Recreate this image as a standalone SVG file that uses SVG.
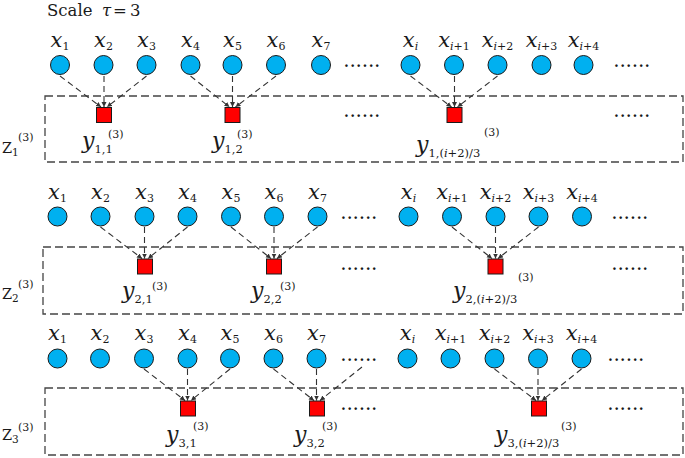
<svg xmlns="http://www.w3.org/2000/svg" width="685" height="458" viewBox="0 0 685 458">
<style>
.c{fill:#00B0F0;stroke:#1a1a1a;stroke-width:1}
.s{fill:#FF0000;stroke:#1a1a1a;stroke-width:1}
.box{fill:none;stroke:#444;stroke-width:1.3;stroke-dasharray:8 4}
.e{fill:none;stroke:#333;stroke-width:1.1;stroke-dasharray:6 4;marker-end:url(#ah)}
text{font-family:'DejaVu Serif','Liberation Serif',serif;fill:#1a1a1a}
.t{font-size:16.5px}
.v{font-style:italic;font-size:21px}
.vy{font-style:italic;font-size:22px}
.sb{font-style:normal;font-size:11px}
.sy{font-style:normal;font-size:11.5px}
.i{font-style:italic}
.sp{font-size:11px}
.z{font-size:14.5px}
.zs{font-size:10.5px}
.d{font-size:14px;font-weight:bold;letter-spacing:1.3px}
</style>
<defs>
<marker id="ah" markerUnits="userSpaceOnUse" markerWidth="6" markerHeight="6" refX="5" refY="2.5" orient="auto">
<path d="M0,0 L5,2.5 L0,5 Z" fill="#333"/>
</marker>
</defs>
<text class="t" y="16"><tspan x="47">Scale</tspan><tspan x="102" font-style="italic">τ</tspan><tspan x="113">=</tspan><tspan x="130">3</tspan></text>

<rect id="box1" class="box" x="45" y="96" width="638" height="66"/>
<rect id="box2" class="box" x="43" y="247" width="640" height="67"/>
<rect id="box3" class="box" x="45" y="388" width="638" height="67"/>

<g id="connectors">
<line class="e" x1="60" y1="76" x2="101" y2="107"/>
<line class="e" x1="104" y1="76" x2="104" y2="107"/>
<line class="e" x1="146.5" y1="76" x2="107" y2="107"/>
<line class="e" x1="190.5" y1="76" x2="229.5" y2="107"/>
<line class="e" x1="232.5" y1="76" x2="232.5" y2="107"/>
<line class="e" x1="276" y1="76" x2="235.5" y2="107"/>
<line class="e" x1="410.5" y1="76" x2="451.5" y2="107"/>
<line class="e" x1="454.5" y1="76" x2="454.5" y2="107"/>
<line class="e" x1="497.5" y1="76" x2="457.5" y2="107"/>
<line class="e" x1="100.5" y1="227" x2="142" y2="258.5"/>
<line class="e" x1="144.5" y1="227" x2="144.5" y2="258.5"/>
<line class="e" x1="187.5" y1="227" x2="148" y2="258.5"/>
<line class="e" x1="231" y1="227" x2="271" y2="258.5"/>
<line class="e" x1="274" y1="227" x2="274" y2="258.5"/>
<line class="e" x1="317.5" y1="227" x2="277" y2="258.5"/>
<line class="e" x1="452" y1="227" x2="492" y2="258.5"/>
<line class="e" x1="495.5" y1="227" x2="495.5" y2="258.5"/>
<line class="e" x1="538.5" y1="227" x2="498" y2="258.5"/>
<line class="e" x1="144" y1="369" x2="185" y2="400.5"/>
<line class="e" x1="187.5" y1="369" x2="187.5" y2="400.5"/>
<line class="e" x1="230" y1="369" x2="191" y2="400.5"/>
<line class="e" x1="273.5" y1="369" x2="314" y2="400.5"/>
<line class="e" x1="316.5" y1="369" x2="316.5" y2="400.5"/>
<line class="e" x1="362" y1="367" x2="320" y2="400.5"/>
<line class="e" x1="494.5" y1="369" x2="536" y2="400.5"/>
<line class="e" x1="538" y1="369" x2="538" y2="400.5"/>
<line class="e" x1="581.5" y1="369" x2="542" y2="400.5"/>
</g>

<g id="p1x1"><circle class="c" cx="60" cy="65" r="9.5"/><text class="v" x="60" y="47" text-anchor="middle">x<tspan class="sb" dy="3">1</tspan></text></g>
<g id="p1x2"><circle class="c" cx="103.5" cy="65" r="9.5"/><text class="v" x="103.5" y="47" text-anchor="middle">x<tspan class="sb" dy="3">2</tspan></text></g>
<g id="p1x3"><circle class="c" cx="146.5" cy="65" r="9.5"/><text class="v" x="146.5" y="47" text-anchor="middle">x<tspan class="sb" dy="3">3</tspan></text></g>
<g id="p1x4"><circle class="c" cx="190.5" cy="65" r="9.5"/><text class="v" x="190.5" y="47" text-anchor="middle">x<tspan class="sb" dy="3">4</tspan></text></g>
<g id="p1x5"><circle class="c" cx="232.5" cy="65" r="9.5"/><text class="v" x="232.5" y="47" text-anchor="middle">x<tspan class="sb" dy="3">5</tspan></text></g>
<g id="p1x6"><circle class="c" cx="276" cy="65" r="9.5"/><text class="v" x="276" y="47" text-anchor="middle">x<tspan class="sb" dy="3">6</tspan></text></g>
<g id="p1x7"><circle class="c" cx="321" cy="65" r="9.5"/><text class="v" x="321" y="47" text-anchor="middle">x<tspan class="sb" dy="3">7</tspan></text></g>
<g id="p1xi"><circle class="c" cx="410.5" cy="65" r="9.5"/><text class="v" x="410.5" y="47" text-anchor="middle">x<tspan class="sb i" dy="3">i</tspan></text></g>
<g id="p1xi1"><circle class="c" cx="454" cy="65" r="9.5"/><text class="v" x="454" y="47" text-anchor="middle">x<tspan class="sb" dy="3"><tspan class="i">i</tspan>+1</tspan></text></g>
<g id="p1xi2"><circle class="c" cx="497.5" cy="65" r="9.5"/><text class="v" x="497.5" y="47" text-anchor="middle">x<tspan class="sb" dy="3"><tspan class="i">i</tspan>+2</tspan></text></g>
<g id="p1xi3"><circle class="c" cx="541.5" cy="65" r="9.5"/><text class="v" x="541.5" y="47" text-anchor="middle">x<tspan class="sb" dy="3"><tspan class="i">i</tspan>+3</tspan></text></g>
<g id="p1xi4"><circle class="c" cx="583.5" cy="65" r="9.5"/><text class="v" x="583.5" y="47" text-anchor="middle">x<tspan class="sb" dy="3"><tspan class="i">i</tspan>+4</tspan></text></g>
<g id="p1dots"><text class="d" x="344" y="67">......</text><text class="d" x="614" y="67">......</text><text class="d" x="344" y="117">......</text><text class="d" x="614" y="117">......</text></g>
<g id="z1"><text class="z" x="2" y="153">Z<tspan class="zs" dy="3">1</tspan></text><text class="sp" x="18" y="141">(3)</text></g>
<g id="p1y1"><rect class="s" x="96.5" y="107.5" width="15" height="15"/><text class="vy" x="82" y="148">y<tspan class="sy" dy="5">1,1</tspan></text><text class="sp" x="108" y="138">(3)</text></g>
<g id="p1y2"><rect class="s" x="225" y="107.5" width="15" height="15"/><text class="vy" x="212" y="148">y<tspan class="sy" dy="5">1,2</tspan></text><text class="sp" x="237" y="138">(3)</text></g>
<g id="p1yi"><rect class="s" x="447" y="107.5" width="15" height="15"/><text class="vy" x="416" y="152">y<tspan class="sy" dy="5">1,(<tspan class="i">i</tspan>+2)/3</tspan></text><text class="sp" x="484" y="136">(3)</text></g>

<g id="p2x1"><circle class="c" cx="57.5" cy="216.5" r="9.5"/><text class="v" x="57.5" y="198.5" text-anchor="middle">x<tspan class="sb" dy="3">1</tspan></text></g>
<g id="p2x2"><circle class="c" cx="100.5" cy="216.5" r="9.5"/><text class="v" x="100.5" y="198.5" text-anchor="middle">x<tspan class="sb" dy="3">2</tspan></text></g>
<g id="p2x3"><circle class="c" cx="144.5" cy="216.5" r="9.5"/><text class="v" x="144.5" y="198.5" text-anchor="middle">x<tspan class="sb" dy="3">3</tspan></text></g>
<g id="p2x4"><circle class="c" cx="187.5" cy="216.5" r="9.5"/><text class="v" x="187.5" y="198.5" text-anchor="middle">x<tspan class="sb" dy="3">4</tspan></text></g>
<g id="p2x5"><circle class="c" cx="231" cy="216.5" r="9.5"/><text class="v" x="231" y="198.5" text-anchor="middle">x<tspan class="sb" dy="3">5</tspan></text></g>
<g id="p2x6"><circle class="c" cx="274" cy="216.5" r="9.5"/><text class="v" x="274" y="198.5" text-anchor="middle">x<tspan class="sb" dy="3">6</tspan></text></g>
<g id="p2x7"><circle class="c" cx="317.5" cy="216.5" r="9.5"/><text class="v" x="317.5" y="198.5" text-anchor="middle">x<tspan class="sb" dy="3">7</tspan></text></g>
<g id="p2xi"><circle class="c" cx="408.5" cy="216.5" r="9.5"/><text class="v" x="408.5" y="198.5" text-anchor="middle">x<tspan class="sb i" dy="3">i</tspan></text></g>
<g id="p2xi1"><circle class="c" cx="452" cy="216.5" r="9.5"/><text class="v" x="452" y="198.5" text-anchor="middle">x<tspan class="sb" dy="3"><tspan class="i">i</tspan>+1</tspan></text></g>
<g id="p2xi2"><circle class="c" cx="495.5" cy="216.5" r="9.5"/><text class="v" x="495.5" y="198.5" text-anchor="middle">x<tspan class="sb" dy="3"><tspan class="i">i</tspan>+2</tspan></text></g>
<g id="p2xi3"><circle class="c" cx="538.5" cy="216.5" r="9.5"/><text class="v" x="538.5" y="198.5" text-anchor="middle">x<tspan class="sb" dy="3"><tspan class="i">i</tspan>+3</tspan></text></g>
<g id="p2xi4"><circle class="c" cx="582" cy="216.5" r="9.5"/><text class="v" x="582" y="198.5" text-anchor="middle">x<tspan class="sb" dy="3"><tspan class="i">i</tspan>+4</tspan></text></g>
<g id="p2dots"><text class="d" x="341" y="219">......</text><text class="d" x="612" y="219">......</text><text class="d" x="341" y="270">......</text><text class="d" x="612" y="270">......</text></g>
<g id="z2"><text class="z" x="2" y="299">Z<tspan class="zs" dy="3">2</tspan></text><text class="sp" x="18" y="288">(3)</text></g>
<g id="p2y1"><rect class="s" x="137.5" y="259" width="15" height="15"/><text class="vy" x="122" y="298">y<tspan class="sy" dy="5">2,1</tspan></text><text class="sp" x="152" y="290">(3)</text></g>
<g id="p2y2"><rect class="s" x="266.5" y="259" width="15" height="15"/><text class="vy" x="251" y="298">y<tspan class="sy" dy="5">2,2</tspan></text><text class="sp" x="280" y="290">(3)</text></g>
<g id="p2yi"><rect class="s" x="488" y="259" width="15" height="15"/><text class="vy" x="453" y="298">y<tspan class="sy" dy="5">2,(<tspan class="i">i</tspan>+2)/3</tspan></text><text class="sp" x="518" y="281">(3)</text></g>

<g id="p3x1"><circle class="c" cx="57.5" cy="358.5" r="9.5"/><text class="v" x="57.5" y="340" text-anchor="middle">x<tspan class="sb" dy="3">1</tspan></text></g>
<g id="p3x2"><circle class="c" cx="100" cy="358.5" r="9.5"/><text class="v" x="100" y="340" text-anchor="middle">x<tspan class="sb" dy="3">2</tspan></text></g>
<g id="p3x3"><circle class="c" cx="144" cy="358.5" r="9.5"/><text class="v" x="144" y="340" text-anchor="middle">x<tspan class="sb" dy="3">3</tspan></text></g>
<g id="p3x4"><circle class="c" cx="187.5" cy="358.5" r="9.5"/><text class="v" x="187.5" y="340" text-anchor="middle">x<tspan class="sb" dy="3">4</tspan></text></g>
<g id="p3x5"><circle class="c" cx="230" cy="358.5" r="9.5"/><text class="v" x="230" y="340" text-anchor="middle">x<tspan class="sb" dy="3">5</tspan></text></g>
<g id="p3x6"><circle class="c" cx="273.5" cy="358.5" r="9.5"/><text class="v" x="273.5" y="340" text-anchor="middle">x<tspan class="sb" dy="3">6</tspan></text></g>
<g id="p3x7"><circle class="c" cx="316.5" cy="358.5" r="9.5"/><text class="v" x="316.5" y="340" text-anchor="middle">x<tspan class="sb" dy="3">7</tspan></text></g>
<g id="p3xi"><circle class="c" cx="407.5" cy="358.5" r="9.5"/><text class="v" x="407.5" y="340" text-anchor="middle">x<tspan class="sb i" dy="3">i</tspan></text></g>
<g id="p3xi1"><circle class="c" cx="450.5" cy="358.5" r="9.5"/><text class="v" x="450.5" y="340" text-anchor="middle">x<tspan class="sb" dy="3"><tspan class="i">i</tspan>+1</tspan></text></g>
<g id="p3xi2"><circle class="c" cx="494.5" cy="358.5" r="9.5"/><text class="v" x="494.5" y="340" text-anchor="middle">x<tspan class="sb" dy="3"><tspan class="i">i</tspan>+2</tspan></text></g>
<g id="p3xi3"><circle class="c" cx="538" cy="358.5" r="9.5"/><text class="v" x="538" y="340" text-anchor="middle">x<tspan class="sb" dy="3"><tspan class="i">i</tspan>+3</tspan></text></g>
<g id="p3xi4"><circle class="c" cx="581.5" cy="358.5" r="9.5"/><text class="v" x="581.5" y="340" text-anchor="middle">x<tspan class="sb" dy="3"><tspan class="i">i</tspan>+4</tspan></text></g>
<g id="p3dots"><text class="d" x="341" y="361">......</text><text class="d" x="608" y="361">......</text><text class="d" x="341" y="410">......</text><text class="d" x="608" y="410">......</text></g>
<g id="z3"><text class="z" x="2" y="440">Z<tspan class="zs" dy="3">3</tspan></text><text class="sp" x="18" y="431">(3)</text></g>
<g id="p3y1"><rect class="s" x="180.5" y="401" width="15" height="15"/><text class="vy" x="166" y="442">y<tspan class="sy" dy="5">3,1</tspan></text><text class="sp" x="193" y="430">(3)</text></g>
<g id="p3y2"><rect class="s" x="309.5" y="401" width="15" height="15"/><text class="vy" x="294" y="442">y<tspan class="sy" dy="5">3,2</tspan></text><text class="sp" x="322" y="430">(3)</text></g>
<g id="p3yi"><rect class="s" x="531.5" y="401" width="15" height="15"/><text class="vy" x="495" y="442">y<tspan class="sy" dy="5">3,(<tspan class="i">i</tspan>+2)/3</tspan></text><text class="sp" x="561" y="430">(3)</text></g>
</svg>
